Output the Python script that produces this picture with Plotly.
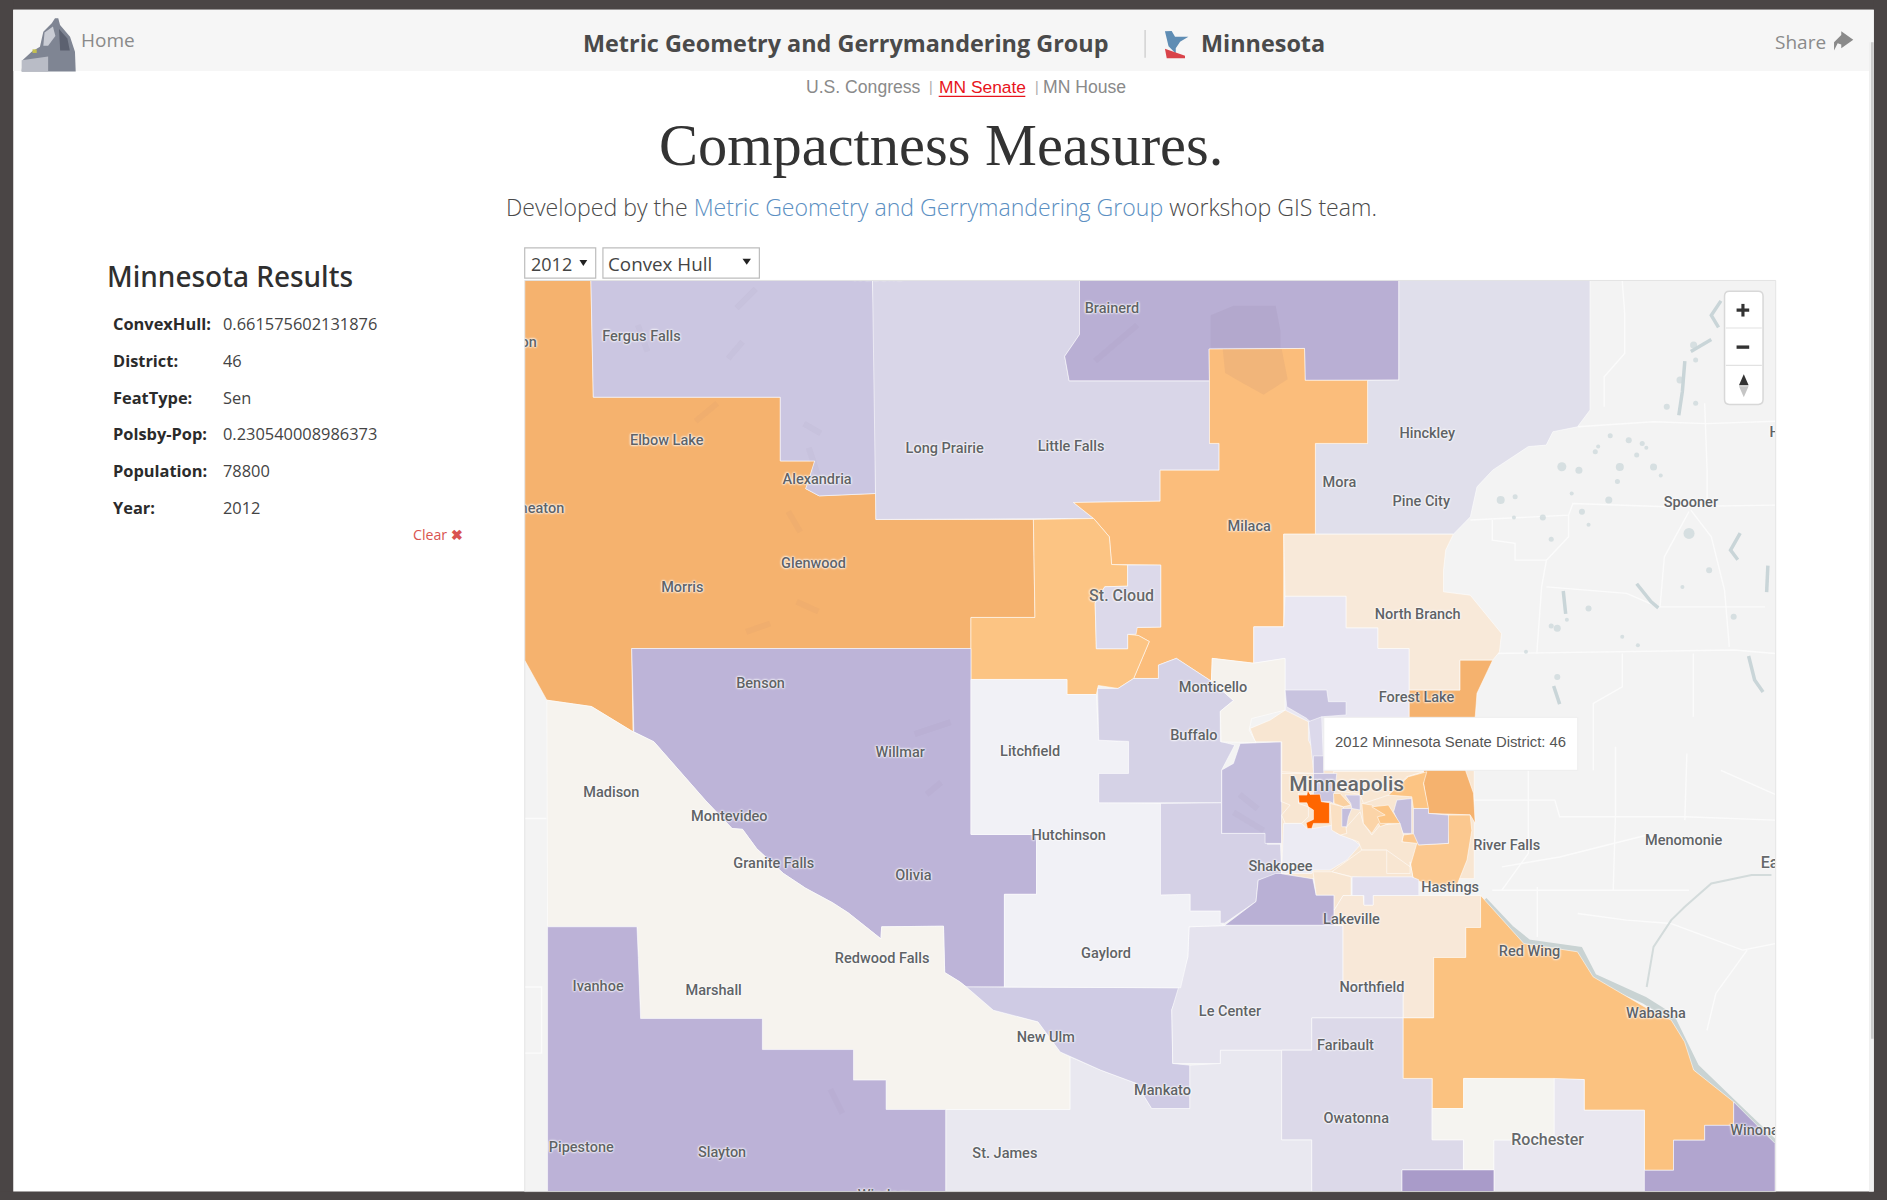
import plotly.graph_objects as go

# ---------- chart data: district outlines on the map grid ----------
wadena_west = [(436,233),(491,233),(493,330),(648.4,330),(648.4,383),(677,383),(671,403),(669.5,406),(680.7,412),(727.8,410),(727.8,431.6),(858.7,431.6),(860,513),(806.8,513),(806.8,538.8),(524.9,538.8),(526,608),(491.5,587),(454.4,581.7),(436,548.5)]
fergus = [(491,233),(725,233),(727,278),(727.8,410),(680.7,412),(669.5,406),(677,383),(648.4,383),(648.4,330),(493,330)]
long_prairie = [(725,233),(897,233),(897,278),(884.7,296),(888.4,316.4),(1005,316.4),(1005,368.4),(1013,368.4),(1013,390.6),(964,390.6),(964,416.4),(892,417.5),(908.8,430.8),(727.8,431.6)]
brainerd = [(897,233),(1162.4,233),(1162.4,315.8),(1084.5,316),(1084,289.5),(1004.7,290),(1005,316.4),(888.4,316.4),(884.7,296),(897,278)]
hinckley = [(1162.4,233),(1321.2,233),(1321.2,340.7),(1310.8,354.6),(1290.4,358.7),(1284.8,369.8),(1270,371),(1240.3,390.6),(1227.3,404.5),(1221.8,429.4),(1207.7,443.8),(1093,443.8),(1093,368.4),(1136.4,368.4),(1136.4,316),(1162.4,315.8)]
milaca = [(1004.7,290),(1084,289.5),(1084.5,316),(1136.4,316),(1136.4,368.4),(1093,368.4),(1093,443.8),(1066.7,443.8),(1066.7,520.8),(1041.8,520.8),(1041.8,551),(1007.3,547),(1006.6,566),(977.5,547),(962.6,552.6),(962.6,563.7),(942,563.7),(955,533),(946,528),(938.5,527),(945,521.3),(964.5,521),(964.5,469.5),(923.7,469),(921.8,446),(908.8,430.8),(892,417.5),(964,416.4),(964,390.6),(1013,390.6),(1013,368.4),(1005,368.4),(1005,316.4)]
st_cloud_core = [(937,469.5),(964.5,469.5),(964.5,521),(945,521.3),(944,527),(937,527),(937,539),(911,539),(910,501),(918,487.5),(937,487)]
st_cloud_ring = [(858.7,431.6),(908.8,430.8),(921.8,446),(923.7,469),(937,469.5),(937,487),(918,487.5),(910,501),(911,539),(937,539),(937,527),(946,528),(955,533),(942,563.7),(929,572),(912.6,569.5),(911,577),(886.6,577),(886.6,564.5),(806.8,564.5),(806.8,513),(860,513)]
benson = [(524.9,538.8),(806.8,538.8),(806.8,693.3),(861.3,693.3),(861.3,743),(834.6,743),(834.6,820),(803,820),(797.5,815.7),(785,808),(784,769.5),(732.6,770),(732,780),(704.8,758.4),(691.8,750),(669.5,738),(651,725.7),(628.7,705),(617,689),(608.3,688.3),(586,664.8),(543.4,616.3),(526.7,608)]
madison = [(454.4,581.7),(491.5,587),(526,608),(543.4,616.3),(586,664.8),(608.3,688.3),(617,689),(628.7,705),(651,725.7),(669.5,738),(691.8,750),(704.8,758.4),(732,780),(732.6,770),(784,769.5),(785,808),(797.5,815.7),(803,820),(825.4,839.3),(862.5,849),(881,874),(889.2,878),(889.2,921.8),(736.3,921.8),(736.3,897.4),(709.2,897.4),(709.2,872),(633.5,872),(633.5,846.2),(532.3,846.2),(530.4,795.5),(529.3,770),(455,770)]
slayton = [(455,770),(529.3,770),(530.4,795.5),(532.3,846.2),(633.5,846.2),(633.5,872),(709.2,872),(709.2,897.4),(736.3,897.4),(736.3,921.8),(786,921.8),(786,990),(455,990)]
st_james = [(786,921.8),(889.2,921.8),(889.2,878),(914.4,889),(944,900),(957,921),(988.6,921),(988.6,885),(1014,883.6),(1014,872.5),(1065,872.5),(1065,947),(1090,947),(1090,990),(786,990)]
new_ulm = [(803,820),(981,820.7),(973.7,839),(974.5,883.6),(988.6,885),(988.6,921),(957,921),(944,900),(914.4,889),(889.2,878),(881,874),(862.5,849),(825.4,839.3)]
le_center = [(988,770),(1017.7,769),(1116,769),(1116,817),(1166,817),(1166,845.7),(1090,845.7),(1090,872.5),(1014,872.5),(1014,883.6),(974.5,883.6),(973.7,839),(987,795)]
faribault = [(1090,845.7),(1166,845.7),(1166,896),(1190,896),(1190,947),(1216,947),(1216,972),(1165,972),(1165,990),(1090,990),(1090,947),(1065,947),(1065,872.5),(1090,872.5)]
litchfield = [(806.8,564.5),(886.6,564.5),(886.6,577),(911,577),(913,615),(937.8,616),(937.8,642.6),(913,642.6),(913,666.8),(964.3,667.5),(964.3,743.5),(989,743),(989,756.8),(1014,756.8),(1014,767),(1017.7,769),(988,770),(987,795),(981,820.7),(834.6,820),(834.6,743),(861.3,743),(861.3,693.3),(806.8,693.3)]
buffalo = [(912,572),(929,572),(942,563.7),(962.6,563.7),(962.6,552.6),(977.5,547),(1006.6,566),(1025,582),(1014,591),(1014,616),(1026,619),(1015,640),(1015,667),(913,667),(913,642.6),(937.8,642.6),(937.8,616),(913,615)]
shakopee_west = [(964.3,667.5),(1015,667),(1015,692.5),(1053,692.5),(1053,701.4),(1064,701.4),(1065,725.7),(1045.5,731.3),(1043.7,749),(1017.7,767),(1014,767),(1014,756.8),(989,756.8),(989,743),(964.3,743.5)]
wright_east = [(1015.2,639.8),(1024.9,634.3),(1030.5,617.7),(1064.5,616.3),(1064.5,666.1),(1072,668.9),(1065,677.2),(1065,700.7),(1051.2,700.7),(1051.2,692.4),(1015.2,692.4)]
scott = [(1045.5,731.3),(1060,725.7),(1090,725.7),(1093.7,743.7),(1108.6,743.7),(1108.6,768.7),(1017.7,768.7),(1043.7,749)]
lakeville_north = [(1108.6,768.7),(1108.6,756),(1116,744),(1132.7,744),(1133.4,752),(1141,752),(1141,744),(1230.3,744),(1230.3,770.6),(1218,770.6),(1218,795.5),(1191.3,795.5),(1191.3,845.7),(1166,845.7),(1166,817),(1116,817),(1116,769)]
red_wing = [(1230.3,744),(1255,771.4),(1266.3,784),(1310.8,790.8),(1323.8,811.6),(1366.4,836.5),(1388.7,847.6),(1399.8,865.6),(1407.3,889),(1440.6,915.5),(1440.6,935),(1416.5,935),(1416.5,947.3),(1390.6,947.3),(1390.6,972.3),(1366.4,972.3),(1366.4,922.4),(1316.4,922.4),(1316.4,896.9),(1216.2,896),(1216.2,921),(1190.2,921),(1190.2,896),(1166,896),(1166,845.7),(1191.3,845.7),(1191.3,795.5),(1218,795.5),(1218,770.6),(1230.3,770.6)]
rochester_west = [(1216.2,896),(1291.5,896),(1291.5,947.3),(1241.4,947.3),(1241.4,972),(1216.2,972),(1216.2,947),(1190,947),(1190,921),(1216.2,921)]
rochester_east = [(1291.5,896),(1316.4,896.9),(1316.4,922.4),(1366.4,922.4),(1366.4,990),(1241.4,990),(1241.4,947.3),(1291.5,947.3)]
albert_lea = [(1165,972),(1241.4,972),(1241.4,990),(1165,990)]
winona = [(1366.4,972.3),(1390.6,972.3),(1390.6,947.3),(1416.5,947.3),(1416.5,935),(1440.6,935),(1440.6,915.5),(1475,950),(1475,990),(1366.4,990)]
north_branch = [(1066.7,443.8),(1207.7,443.8),(1201.3,457),(1199.5,473.7),(1199.5,491.7),(1221.7,494.5),(1247.7,526.3),(1246,541.6),(1240.3,548.5),(1213.2,548.5),(1213.2,573.4),(1171,573.4),(1171,538.8),(1145,538.8),(1145,521.6),(1118.6,521.6),(1118.6,495.3),(1067.8,495.3)]
anoka_north = [(1041.8,520.8),(1066.7,520.8),(1067.8,495.3),(1118.6,495.3),(1118.6,521.6),(1145,521.6),(1145,538.8),(1171,538.8),(1171,645),(1100,645),(1067.8,600),(1067.8,547),(1041.8,551)]
metro_base = [(1065,640),(1225,640),(1225,730),(1090,730),(1065,726)]
forest_lake = [(1213.2,548.5),(1240.3,548.5),(1227.3,576),(1225.5,600),(1171,600),(1171,573.4),(1213.2,573.4)]
washington_north = [(1183,635),(1216,635),(1224.4,659),(1225.8,684),(1221.6,677),(1187,675.8),(1183,651)]
metro_ne = [(1153.7,660.6),(1170.3,645.4),(1185.6,641.2),(1182.8,651),(1187,671.7),(1174.5,671.7),(1173.1,662)]
hastings_north = [(1202,677.2),(1221.6,677.2),(1223,690),(1219,714.6),(1209,739.5),(1174.5,731.2),(1171.7,716),(1174.5,702),(1165,699.4),(1166,693.8),(1177,692.4),(1178.7,702),(1203.6,700.7)]
woodbury = [(1174.5,671.7),(1187,671.7),(1187,675.8),(1203.6,677.2),(1203.6,700.7),(1178.7,702),(1174.5,692.4)]
st_paul_east = [(1160.7,664.7),(1173,663.4),(1173,692.4),(1166,692.4),(1158,674.4)]
maple_grove = [(1038.8,605.2),(1055.4,598.3),(1067.9,590),(1087.2,599.6),(1087.2,614.9),(1091.4,623.2),(1091.4,642.6),(1065.1,641.2),(1065.1,616.3),(1043,616.3)]
monticello = [(1007.3,547),(1041.8,551),(1067.8,547),(1067.8,590),(1040,597),(1038,606.6),(1043.7,617),(1014.7,616.4),(1014,591),(1025,582),(1006.6,566)]
anoka_wedge = [(1067.9,573.3),(1102.5,573.3),(1103.9,583),(1118.5,583),(1118.5,594),(1098.3,595.5),(1095.6,606.6),(1085.9,596.9),(1069.2,587.2)]
brooklyn = [(1087.2,599.6),(1098.3,595.5),(1100,640),(1091.4,640)]
brooklyn_south = [(1091.4,628),(1100,628),(1100,642.6),(1091.4,642.6)]
plymouth = [(1065,642.6),(1091.4,642.6),(1091.4,659),(1079,659),(1079,667.5),(1087.2,670.3),(1087.2,678.6),(1081.7,684.1),(1067.9,684.1),(1065,677.2),(1072,668.9),(1065,666)]
north_mpls = [(1091.4,642.6),(1110.8,642.6),(1108,667.5),(1105.2,666.1),(1091.4,666.1)]
sw_metro = [(1066.5,684.1),(1081.7,684.1),(1085.9,688.3),(1091.4,688.3),(1108,685.5),(1110.8,692.4),(1119.1,693.8),(1130.2,702.1),(1119.1,714.6),(1105.2,722.9),(1091.4,722.9),(1090,725.7),(1065,725.7)]
south_mpls = [(1105.2,667.5),(1116.3,670.3),(1119.1,692.4),(1113.6,693.8),(1106.6,689.7)]
mpls_centre = [(1108,659.2),(1113.6,659.2),(1122.4,668.9),(1116.3,670.3),(1108.6,667.5)]
st_paul_small = [(1115,671.7),(1123.3,671.7),(1120.5,678.6),(1119,686.9),(1115,686.9)]
st_paul_mid = [(1117.7,660.6),(1130.2,660.6),(1130.2,673),(1123.3,671.7),(1122.4,667.5)]
metro_top = [(1108,641),(1183,641),(1169,645.4),(1153.7,660.6),(1133,667.5),(1130,660),(1112,657)]
ramsey_south = [(1131.6,667.5),(1139.9,668.9),(1160.7,681.4),(1146.8,686.9),(1145.4,684.1),(1139.9,692.4),(1132.9,684.1)]
ramsey_east = [(1139.9,670.3),(1153.7,668.9),(1163.4,684.1),(1146.8,684.1),(1144.6,678.6),(1151,677.2)]
dakota_north = [(1119.1,686.9),(1130.2,674.4),(1132.9,684.1),(1139.9,693.8),(1146.8,685.5),(1163.4,684.1),(1166.2,693.8),(1164.8,699.4),(1177.3,700.7),(1171.7,720.1),(1152.3,706.3),(1131.6,706.3),(1128.8,699.4),(1113.6,693.8)]
dakota_mid = [(1106.6,724.3),(1131.6,706.3),(1152.3,706.3),(1152.3,725.7),(1171.7,725.7),(1171.7,716),(1174.5,731.2),(1123.5,728.5)]
dakota_west = [(1091,724.3),(1106.6,724.3),(1122.7,728.5),(1122.7,744),(1116,744),(1108.6,756),(1108.6,743.7),(1093.7,743.7)]
dakota_band = [(1123.5,728.5),(1173,728.5),(1179,731),(1179,744),(1141,744),(1141,752),(1133.4,752),(1133.4,744),(1123.5,744)]
district_46 = [(1078.9,660.6),(1085.9,660.6),(1086.7,656.4),(1088.6,660),(1096.9,659.8),(1098,666.1),(1104.7,666.9),(1104.7,684.1),(1091.4,684.1),(1090,688.3),(1086.4,688.3),(1085.3,683.6),(1091.4,680.8),(1091.4,673),(1087.2,670.3),(1085.9,667),(1079.5,667)]

# drawing order, from the back to the front
district_names = ["wadena_west","fergus","long_prairie","brainerd","hinckley","milaca","st_cloud_ring","st_cloud_core","benson","madison","slayton","st_james","new_ulm","le_center","faribault","litchfield","buffalo","shakopee_west","wright_east","scott","lakeville_north","red_wing","rochester_west","rochester_east","albert_lea","winona","anoka_north","north_branch","forest_lake","metro_base","washington_north","metro_top","metro_ne","hastings_north","woodbury","st_paul_east","maple_grove","monticello","anoka_wedge","brooklyn","brooklyn_south","plymouth","north_mpls","sw_metro","dakota_north","dakota_mid","dakota_west","dakota_band","south_mpls","mpls_centre","st_paul_small","st_paul_mid","ramsey_south","ramsey_east","district_46"]
district_fill = ["#f5b26e","#cbc6e1","#d9d6e8","#b9afd4","#e0dfeb","#fbbd7b","#fcc483","#dcd9ea","#bdb4d8","#f6f3ee","#bcb2d7","#e9e8f0","#cfcbe4","#e5e3ee","#dcd9e9","#f1f1f6","#d5d2e6","#d5d1e6","#c3bddc","#b9b0d5","#f8e8d8","#fbc280","#f5f4f0","#e9e7f0","#a99bc9","#b1a5cf","#e9e7f2","#f8e9d9","#f5b26e","#f8e6d2","#f5b26e","#f8e6d2","#fcc483","#fbc88f","#c7c1de","#c3bddc","#f8e6d2","#f5f2ed","#c8c3df","#dcd9eb","#c9c4df","#f8e6d2","#c9c4df","#ecebf3","#f8e6d2","#f8e6d2","#f8e6d2","#e2dfee","#fae0c3","#fad0a0","#c3bddc","#cbc6e1","#fbd4a8","#fcc483","#ff6600"]

# cities
city_names = ["Wadena","Brainerd","Fergus Falls","Wahpeton","Hinckley","Elbow Lake","Long Prairie","Little Falls","Alexandria","Mora","Pine City","Spooner","Wheaton","Milaca","Glenwood","Morris","North Branch","Benson","Monticello","Forest Lake","Buffalo","Willmar","Litchfield","Madison","Montevideo","Hutchinson","River Falls","Menomonie","Granite Falls","Shakopee","Olivia","Hastings","Lakeville","Red Wing","Redwood Falls","Gaylord","Ivanhoe","Marshall","Northfield","Le Center","Wabasha","New Ulm","Faribault","Mankato","Owatonna","Winona","Pipestone","Slayton","St. James","Windom","Hayward"]
city_x = [729,924,533,419,1186,554,785,890,679,1113,1181,1405,445,1038,676,567,1178,632,1008,1177,992,748,856,508,606,888,1252,1399,643,1064,759,1205,1123,1271,733,919,497,593,1140,1022,1376,869,1118,966,1127,1458,483,600,835,735,1494]
city_y = [230,257,280,285,361,367,373,372,399,402,417,418,423,438,469,489,511,569,572,580,612,626,625,659,679,695,703,699,718,721,728,738,765,791,797,793,820,824,821,841,843,863,869,907,930,940,954,958,959,994,360]
big_city_names = ["Minneapolis","St. Cloud","Rochester","Eau Claire","Chippewa Falls"]
big_city_x = [1119,932,1286,1493,1521]
big_city_y = [653,496,948,718,681]
big_city_size = [21,16,16,16,15]

# water on the neighbouring land
lake_x = [1297.8,1312,1325.6,1346,1374,1353.4,1364.6,1396,1409,1407.3,1385,1409,1336.8,1314.5,1247,1259,1282,1403.5,1420.2,1320,1294,1398,1348,1268,1361,1294,1440.6,1258,1289,1338,1360,1328,1306,1344,1368,1380,1320,1289,1302]
lake_y = [387.8,390.6,375.4,388,388,365.7,368.4,315.8,299,286.7,338,335,415.5,425.2,415.5,412.7,430,443.2,473.7,505.6,522,487.6,529,541.6,536,562.4,512.5,430,448,362,378,371,410,400,372,395,436,520,515]
lake_size = [9,7,5,8,7,6,5,7,5,7,6,5,7,6,8,5,6,11,6,6,7,4,4,4,4,6,6,4,5,5,5,4,4,5,4,4,4,5,4]
long_lakes = [[(1299,491),(1301,510)],[(1446,443),(1438,457),(1444,465)],[(1453,545),(1458,565),(1465,575)],[(1360,485),(1372,500),(1378,505)],[(1400,300),(1398,325),(1395,345)],[(1469,470),(1468,492)],[(1430,250),(1422,262),(1428,272)],[(1291,570),(1296,585)],[(1422,282),(1405,292)]]
road_lines = [[(1348,233),(1350,260),(1350,293.6),(1333,313),(1333,338)],[(1311,354.6),(1374,350.4),(1418,352),(1475,350)],[(1416.5,335),(1418.5,390.6),(1418.5,418.3)],[(1221.8,432),(1303.4,428),(1307,418.3),(1385,421),(1475,419.7)],[(1240,432),(1240,448.8),(1259,451.5),(1259,465.4),(1285,465.4),(1281,487.6),(1277,543)],[(1303.4,428),(1303.4,446),(1285,465.4)],[(1405,423.8),(1422,446),(1433,490.3),(1437,537.4)],[(1403.5,425),(1383,462.6),(1379.4,504.2)],[(1285,487.6),(1351.6,493),(1377.6,504.2),(1466.6,504.2)],[(1240,543),(1441,540),(1475,543)],[(1407,543),(1407,595.6)],[(1348,543),(1348,570.7),(1324,584.5),(1324,640)],[(1222,664.8),(1292,664.8),(1296,678.6),(1400,678.6),(1475,681.4)],[(1270,640),(1270,709),(1248,739.6)],[(1342.4,620.5),(1342.4,676),(1340.5,739.6)],[(1401.7,626),(1400,681.4)],[(1248,720.2),(1296,712),(1340.5,700.8),(1368,694)],[(1240,739.6),(1403.5,739.6)],[(1277.4,737),(1277.4,778.4)],[(1311,759),(1351.6,764.5),(1388.7,767.3)],[(1451.8,789.4),(1425.8,825.4),(1418.4,856)],[(1388.7,767.3),(1448,789.4),(1475,784)],[(436,680),(454,680)],[(436,820),(450,820),(450,875),(436,875)],[(1430,640),(1475,660)]]
river_lines = [[(1472,727),(1455.5,727),(1422,734),(1400,753.4),(1388.7,764.5),(1374,786.7),(1368.3,820)]]
big_river = [(1233,748),(1255,771.4),(1270,783.4),(1312.6,789.5),(1324,811.6),(1366.4,831),(1388.7,845),(1399.8,867),(1409,886.5),(1440.6,917),(1475,950)]
# faint water seen through the districts
brainerd_lake = [(1006,262),(1025,254),(1060,254),(1064,275),(1064,289),(1006,289)]
milaca_lake = [(1016,290),(1065,290),(1070,315),(1050,328),(1032,318),(1018,310)]
shade_strokes = [[(612,256),(628,240)],[(605,298),(617,284)],[(668,352),(682,360)],[(672,372),(680,396)],[(530,270),(538,292)],[(578,350),(596,335)],[(655,425),(665,442)],[(662,500),(680,508)],[(620,525),(640,518)],[(910,300),(945,270)],[(760,610),(790,600)],[(770,660),(782,650)],[(690,905),(700,925)],[(1030,660),(1045,672)],[(1025,675),(1050,690)]]

# results panel
result_labels = ["ConvexHull:","District:","FeatType:","Polsby-Pop:","Population:","Year:"]
result_values = ["0.661575602131876","46","Sen","0.230540008986373","78800","2012"]

# icons
capitol_dome = [(45.7,15.2),(43,19.4),(36,26.3),(33.2,38.8),(26.3,43),(18.9,49.9),(18,59.5),(62.9,59.5),(62.3,43),(58.2,30.5),(49.9,20.8),(48.4,15.2)]
capitol_light = [(37,27),(44,22),(46,30),(40,38),(36,38)]
capitol_base = [(18,50),(40,47),(40,59.5),(18,59.5)]
capitol_dark = [(49,24),(56,32),(58,42),(50,42)]
flag_blue = [(968,26),(973.6,25.8),(976.4,30.5),(987.5,30.5),(980.6,34.6),(977,40),(977,44.5),(971,38.5)]
flag_red = [(968,40.5),(984.7,46.3),(984.7,48.4),(969.5,48.4)]
share_arrow = [(1524,35),(1530,29),(1530,26),(1540,33),(1530,40),(1530,37),(1527,36),(1524,42)]

W, H = 1887, 1200
PW, PH = 1568, 997
MAP = (436, 1475, 233, 990)
DARK = "#4a4545"

def unzip(pts):
    return [p[0] for p in pts], [p[1] for p in pts]

fig = go.Figure()
m = dict(xaxis="x2", yaxis="y2", hoverinfo="skip", showlegend=False)

# land
fig.add_trace(go.Scatter(x=[MAP[0],MAP[1],MAP[1],MAP[0]], y=[MAP[2],MAP[2],MAP[3],MAP[3]], fill="toself", fillcolor="#f3f3f3", mode="lines", line=dict(width=0), **m))
for r in road_lines:
    x, y = unzip(r)
    fig.add_trace(go.Scatter(x=x, y=y, mode="lines", line=dict(color="#fbfbfb", width=1.4), **m))
for r in river_lines:
    x, y = unzip(r)
    fig.add_trace(go.Scatter(x=x, y=y, mode="lines", line=dict(color="#d3dbdb", width=2), **m))
x, y = unzip(big_river)
fig.add_trace(go.Scatter(x=x, y=y, mode="lines", line=dict(color="#c9d3d3", width=7), **m))
fig.add_trace(go.Scatter(x=lake_x, y=lake_y, mode="markers", marker=dict(color="#c9d5d8", size=lake_size, line=dict(width=0)), **m))
for r in long_lakes:
    x, y = unzip(r)
    fig.add_trace(go.Scatter(x=x, y=y, mode="lines", line=dict(color="#c9d5d8", width=3.5), **m))

# districts
for name, col in zip(district_names, district_fill):
    x, y = unzip(globals()[name])
    fig.add_trace(go.Scatter(x=x+[x[0]], y=y+[y[0]], fill="toself", fillcolor=col, mode="lines",
                             line=dict(color="rgba(255,255,255,0.55)", width=1), **m))
for pts in (brainerd_lake, milaca_lake):
    x, y = unzip(pts)
    fig.add_trace(go.Scatter(x=x+[x[0]], y=y+[y[0]], fill="toself", fillcolor="rgba(120,90,110,0.07)", mode="lines", line=dict(width=0), **m))
for r in shade_strokes:
    x, y = unzip(r)
    fig.add_trace(go.Scatter(x=x, y=y, mode="lines", line=dict(color="rgba(110,90,120,0.035)", width=6), **m))

# city labels
halo = "0 0 2px #fff, 0 0 2px #fff, 0 0 3px #fff"
fig.add_trace(go.Scatter(x=city_x, y=city_y, text=city_names, mode="text", cliponaxis=True,
                         textfont=dict(family="Roboto", size=14.5, color="#606366", weight=500, shadow=halo), **m))
for n, xx, yy, s in zip(big_city_names, big_city_x, big_city_y, big_city_size):
    fig.add_trace(go.Scatter(x=[xx], y=[yy], text=[n], mode="text", cliponaxis=True,
                             textfont=dict(family="Roboto", size=s, color="#66696b", weight=500, shadow=halo), **m))

# page chrome
shapes = []
def rect(x0, y0, x1, y1, fill, line=None, lw=0):
    shapes.append(dict(type="rect", xref="x", yref="y", x0=x0, y0=y0, x1=x1, y1=y1, fillcolor=fill, line=dict(color=line or fill, width=lw)))
def poly(pts, fill):
    path = "M" + "L".join(f"{a},{b}" for a, b in pts) + "Z"
    shapes.append(dict(type="path", xref="x", yref="y", path=path, fillcolor=fill, line=dict(width=0)))

rect(0, 0, PW, 8, DARK); rect(0, 0, 11, PH, DARK); rect(1557, 0, PW, PH, DARK); rect(0, 990, PW, PH, DARK)
rect(11, 8, 1557, 59, "#f6f6f6")
rect(1553, 35, 1557, 990, "#f0f0f0"); rect(1554.7, 35, 1557, 863, "#cbcbcb")
rect(951, 25, 952, 48, "#c9c9c9")
rect(436, 233, 1475.5, 990, "rgba(0,0,0,0)", "#dddddd", 0.8)
poly(capitol_dome, "#7f8593"); poly(capitol_light, "#c9ccd4"); poly(capitol_base, "#b9bcc6"); poly(capitol_dark, "#5c6170")
poly(flag_blue, "#5f8db4"); poly(flag_red, "#d9434a"); poly(share_arrow, "#8a8a8a")
rect(27, 41, 30.5, 44, "#c5c050")
rect(780, 79.5, 852, 80.6, "#e8141c")
rect(436, 206, 495, 231, "#ffffff", "#bdbdbd", 1.2); rect(501, 206, 631, 231, "#ffffff", "#bdbdbd", 1.2)
# tooltip
rect(1100, 596, 1311, 640, "#ffffff", "#eeeeee", 1)
# zoom control
shapes.append(dict(type="path", xref="x", yref="y", path="M1437,242 L1461,242 Q1465,242 1465,246 L1465,332 Q1465,336 1461,336 L1437,336 Q1433,336 1433,332 L1433,246 Q1433,242 1437,242Z", fillcolor="#ffffff", line=dict(color="#d8d8d8", width=1.5)))
rect(1434, 272, 1464, 273, "#e2e2e2"); rect(1434, 303, 1464, 304, "#e2e2e2")
rect(1443, 256.3, 1453.5, 259, "#333333"); rect(1447, 252.5, 1449.6, 263, "#333333")
rect(1443, 287, 1453.5, 289.8, "#333333")
poly([(1449,311),(1453,320),(1445,320)], "#333333"); poly([(1445,321),(1453,321),(1449,330)], "#c5c5c5")
poly([(481.5,216),(488,216),(484.7,221)], "#222222"); poly([(617,215),(624,215),(620.5,220)], "#222222")

anns = []
def txt(x, y, s, size, color="#333333", fam="Open Sans", weight=400, anchor="left"):
    anns.append(dict(x=x-1.7 if anchor == "left" else x, y=y, xref="x", yref="y", text=s, showarrow=False, xanchor=anchor, yanchor="middle",
                     font=dict(family=fam, size=size, color=color, weight=weight)))

txt(67, 33, "Home", 19, "#8a8a8a")
txt(703, 36, "Metric Geometry and Gerrymandering Group", 23.4, "#4a4a4a", weight=700, anchor="center")
txt(998, 36, "Minnesota", 23.4, "#4a4a4a", weight=700)
txt(1475, 35, "Share", 19, "#8a8a8a")
txt(670, 72, "U.S. Congress", 17.6, "#8a8a8a", "Liberation Sans")
txt(772, 72, "|", 14, "#aaaaaa", "Liberation Sans")
txt(780, 72, "MN Senate", 17.4, "#e8141c", "Liberation Sans")
txt(860, 72, "|", 14, "#aaaaaa", "Liberation Sans")
txt(867, 72, "MN House", 17.6, "#8a8a8a", "Liberation Sans")
txt(782, 121, "Compactness Measures.", 58.4, "#333333", "Liberation Serif", anchor="center")
txt(782, 172, 'Developed by the <span style="color:#5b8fc2">Metric Geometry and Gerrymandering Group</span> workshop GIS team.', 23.1, "#4a4a4a", "Open Sans", 300, anchor="center")
txt(441, 219, "2012", 18, "#444444", "Open Sans")
txt(505, 219, "Convex Hull", 18.8, "#444444", "Open Sans")
txt(89, 229.5, "Minnesota Results", 28, "#2f2f2f", "Noto Sans", 500)
row_y = [269, 299.5, 330, 360.5, 391, 421.5]
for yy, l, v in zip(row_y, result_labels, result_values):
    txt(94, yy, l, 16.4, "#2b2b2b", "Open Sans", 700)
    txt(185, yy, v, 16.4, "#444444", "Open Sans")
txt(343, 444, 'Clear <b>✖</b>', 14.2, "#d9534f", "Open Sans")
txt(1109, 616.5, "2012 Minnesota Senate District: 46", 14.85, "#555555", "Liberation Sans")

fig.update_layout(
    width=W, height=H, margin=dict(l=0, r=0, t=0, b=0), paper_bgcolor="#ffffff", plot_bgcolor="rgba(0,0,0,0)",
    showlegend=False, shapes=shapes, annotations=anns,
    xaxis=dict(range=[0, PW], domain=[0, 1], visible=False, fixedrange=True),
    yaxis=dict(range=[PH, 0], domain=[0, 1], visible=False, fixedrange=True),
    xaxis2=dict(range=[MAP[0], MAP[1]], domain=[MAP[0]/PW, MAP[1]/PW], anchor="y2", visible=False, fixedrange=True),
    yaxis2=dict(range=[MAP[3], MAP[2]], domain=[1-MAP[3]/PH, 1-MAP[2]/PH], anchor="x2", visible=False, fixedrange=True),
)
# page axis needs one trace so that it is laid out
fig.add_trace(go.Scatter(x=[0], y=[0], mode="markers", marker=dict(size=0, opacity=0), hoverinfo="skip", showlegend=False))
fig.write_html("out.html", config=dict(displayModeBar=False),
               post_script="document.body.style.margin='0';document.documentElement.style.overflow='hidden';")
